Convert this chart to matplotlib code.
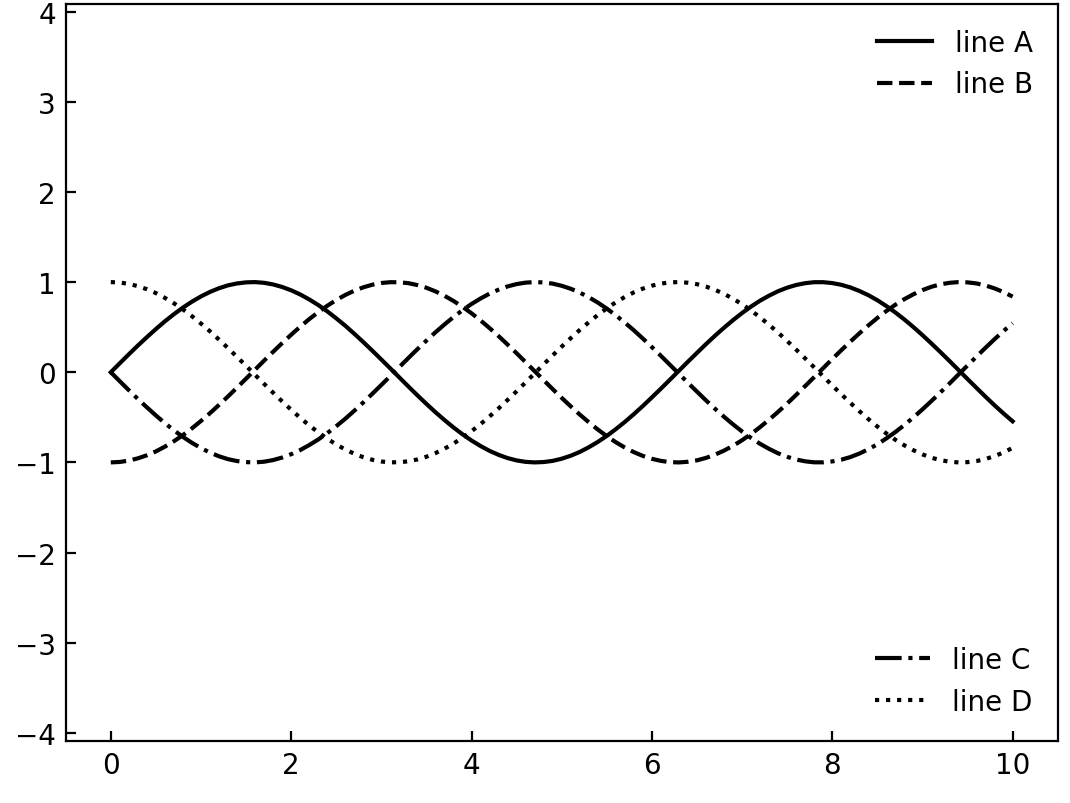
import matplotlib
matplotlib.use("Agg")
import matplotlib.pyplot as plt

x_values = [
    0.0, 0.1, 0.2, 0.3, 0.4, 0.5, 0.6, 0.7, 0.8, 0.9,
    1.0, 1.1, 1.2, 1.3, 1.4, 1.5, 1.6, 1.7, 1.8, 1.9,
    2.0, 2.1, 2.2, 2.3, 2.4, 2.5, 2.6, 2.7, 2.8, 2.9,
    3.0, 3.1, 3.2, 3.3, 3.4, 3.5, 3.6, 3.7, 3.8, 3.9,
    4.0, 4.1, 4.2, 4.3, 4.4, 4.5, 4.6, 4.7, 4.8, 4.9,
    5.0, 5.1, 5.2, 5.3, 5.4, 5.5, 5.6, 5.7, 5.8, 5.9,
    6.0, 6.1, 6.2, 6.3, 6.4, 6.5, 6.6, 6.7, 6.8, 6.9,
    7.0, 7.1, 7.2, 7.3, 7.4, 7.5, 7.6, 7.7, 7.8, 7.9,
    8.0, 8.1, 8.2, 8.3, 8.4, 8.5, 8.6, 8.7, 8.8, 8.9,
    9.0, 9.1, 9.2, 9.3, 9.4, 9.5, 9.6, 9.7, 9.8, 9.9,
    10.0]

line_a = [
    0.000, 0.100, 0.199, 0.296, 0.389, 0.479, 0.565, 0.644, 0.717, 0.783,
    0.841, 0.891, 0.932, 0.964, 0.985, 0.997, 1.000, 0.992, 0.974, 0.946,
    0.909, 0.863, 0.808, 0.746, 0.676, 0.598, 0.516, 0.427, 0.335, 0.239,
    0.141, 0.042, -0.058, -0.158, -0.256, -0.351, -0.443, -0.530, -0.612, -0.688,
    -0.757, -0.818, -0.872, -0.916, -0.952, -0.978, -0.994, -1.000, -0.996, -0.983,
    -0.959, -0.926, -0.884, -0.832, -0.773, -0.706, -0.631, -0.551, -0.465, -0.374,
    -0.279, -0.182, -0.083, 0.017, 0.117, 0.215, 0.312, 0.405, 0.494, 0.578,
    0.657, 0.729, 0.794, 0.850, 0.899, 0.938, 0.968, 0.988, 0.999, 0.999,
    0.989, 0.970, 0.941, 0.902, 0.855, 0.799, 0.734, 0.663, 0.585, 0.501,
    0.412, 0.319, 0.223, 0.125, 0.025, -0.075, -0.174, -0.272, -0.367, -0.458,
    -0.544]

line_b = [
    -1.000, -0.995, -0.980, -0.955, -0.921, -0.878, -0.825, -0.765, -0.697, -0.622,
    -0.540, -0.454, -0.362, -0.268, -0.170, -0.071, 0.029, 0.129, 0.227, 0.323,
    0.416, 0.505, 0.589, 0.666, 0.737, 0.801, 0.857, 0.904, 0.942, 0.971,
    0.990, 0.999, 0.998, 0.988, 0.967, 0.937, 0.897, 0.848, 0.791, 0.726,
    0.654, 0.575, 0.490, 0.401, 0.307, 0.211, 0.112, 0.012, -0.088, -0.187,
    -0.284, -0.378, -0.469, -0.554, -0.635, -0.709, -0.776, -0.835, -0.886, -0.928,
    -0.960, -0.983, -0.997, -1.000, -0.993, -0.977, -0.950, -0.914, -0.869, -0.816,
    -0.754, -0.685, -0.608, -0.526, -0.439, -0.347, -0.251, -0.153, -0.054, 0.046,
    0.146, 0.244, 0.339, 0.431, 0.519, 0.602, 0.679, 0.749, 0.811, 0.865,
    0.911, 0.948, 0.975, 0.992, 1.000, 0.997, 0.985, 0.962, 0.930, 0.889,
    0.839]

line_c = [
    0.000, -0.100, -0.199, -0.296, -0.389, -0.479, -0.565, -0.644, -0.717, -0.783,
    -0.841, -0.891, -0.932, -0.964, -0.985, -0.997, -1.000, -0.992, -0.974, -0.946,
    -0.909, -0.863, -0.808, -0.746, -0.676, -0.598, -0.516, -0.427, -0.335, -0.239,
    -0.141, -0.042, 0.058, 0.158, 0.256, 0.351, 0.443, 0.530, 0.612, 0.688,
    0.757, 0.818, 0.872, 0.916, 0.952, 0.978, 0.994, 1.000, 0.996, 0.983,
    0.959, 0.926, 0.884, 0.832, 0.773, 0.706, 0.631, 0.551, 0.465, 0.374,
    0.279, 0.182, 0.083, -0.017, -0.117, -0.215, -0.312, -0.405, -0.494, -0.578,
    -0.657, -0.729, -0.794, -0.850, -0.899, -0.938, -0.968, -0.988, -0.999, -0.999,
    -0.989, -0.970, -0.941, -0.902, -0.855, -0.799, -0.734, -0.663, -0.585, -0.501,
    -0.412, -0.319, -0.223, -0.125, -0.025, 0.075, 0.174, 0.272, 0.367, 0.458,
    0.544]

line_d = [
    1.000, 0.995, 0.980, 0.955, 0.921, 0.878, 0.825, 0.765, 0.697, 0.622,
    0.540, 0.454, 0.362, 0.268, 0.170, 0.071, -0.029, -0.129, -0.227, -0.323,
    -0.416, -0.505, -0.589, -0.666, -0.737, -0.801, -0.857, -0.904, -0.942, -0.971,
    -0.990, -0.999, -0.998, -0.988, -0.967, -0.937, -0.897, -0.848, -0.791, -0.726,
    -0.654, -0.575, -0.490, -0.401, -0.307, -0.211, -0.112, -0.012, 0.088, 0.187,
    0.284, 0.378, 0.469, 0.554, 0.635, 0.709, 0.776, 0.835, 0.886, 0.928,
    0.960, 0.983, 0.997, 1.000, 0.993, 0.977, 0.950, 0.914, 0.869, 0.816,
    0.754, 0.685, 0.608, 0.526, 0.439, 0.347, 0.251, 0.153, 0.054, -0.046,
    -0.146, -0.244, -0.339, -0.431, -0.519, -0.602, -0.679, -0.749, -0.811, -0.865,
    -0.911, -0.948, -0.975, -0.992, -1.000, -0.997, -0.985, -0.962, -0.930, -0.889,
    -0.839]

labels = ["line A", "line B", "line C", "line D"]
styles = ["-", "--", "-.", ":"]
series = [line_a, line_b, line_c, line_d]

x_ticks = [0, 2, 4, 6, 8, 10]
y_ticks = [-4, -3, -2, -1, 0, 1, 2, 3, 4]

DPI = 200
fig = plt.figure(figsize=(1070 / DPI, 804 / DPI), dpi=DPI)
ax = fig.add_axes([65.7 / 1070, 1 - 742 / 804, (1057.7 - 65.7) / 1070, (742 - 4.5) / 804])

lines = []
for ys, st, lab in zip(series, styles, labels):
    ln, = ax.plot(x_values, ys, st, color="black", linewidth=1.5, label=lab)
    lines.append(ln)

ax.set_xlim(-0.5, 10.5)
ax.set_ylim(-4.09, 4.09)
ax.set_xticks(x_ticks)
ax.set_yticks(y_ticks)
ax.tick_params(direction="in", length=3.5, width=0.8, labelsize=10)
for sp in ax.spines.values():
    sp.set_linewidth(0.8)

leg1 = ax.legend(lines[:2], labels[:2], loc="upper right", frameon=False)
ax.add_artist(leg1)
ax.legend(lines[2:], labels[2:], loc="lower right", frameon=False)

fig.savefig("out.png", dpi=DPI)
